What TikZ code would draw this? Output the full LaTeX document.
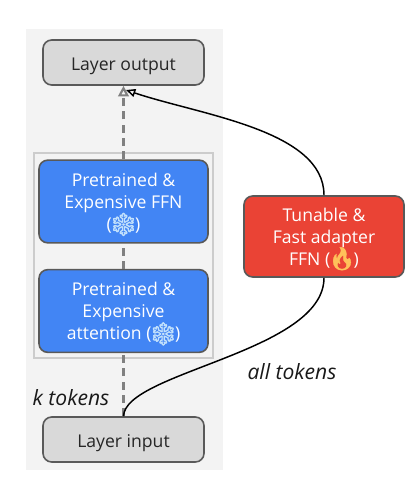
\documentclass[tikz,border=0pt]{standalone}
\usepackage{fontspec}
\setmainfont{Open Sans}
\newfontfamily\emojifont{Noto Emoji}[FakeBold=1.5]
\usetikzlibrary{arrows.meta}
\definecolor{panelgray}{HTML}{F3F3F3}
\definecolor{framegray}{HTML}{CCCCCC}
\definecolor{boxgray}{HTML}{D9D9D9}
\definecolor{edgegray}{HTML}{595959}
\definecolor{blockblue}{HTML}{4285F4}
\definecolor{blockred}{HTML}{EA4335}
\definecolor{iceblue}{HTML}{C4E2FC}
\definecolor{fireorange}{HTML}{FFC15A}
\newcommand{\frozen}{\kern-2pt\smash{\raisebox{-1.5pt}{\fontsize{17}{17}\emojifont\textcolor{iceblue}{❄}}}\kern-2pt}
\newcommand{\burning}{\kern-2pt\smash{\raisebox{-1pt}{\fontsize{17}{17}\emojifont\textcolor{fireorange}{🔥}}}\kern-2pt}
\tikzset{
  block/.style={draw=edgegray,line width=1.2pt,rounded corners=6.5pt,align=center,
    font=\fontsize{13.2}{16.5}\selectfont,inner sep=0pt,text depth=0pt},
  layerbox/.style={block,fill=boxgray,text=black!85,minimum width=120.75pt,minimum height=33.75pt,text height=12.5pt},
  frozenbox/.style={block,fill=blockblue,text=white,minimum width=126.75pt,minimum height=62pt},
  adapterbox/.style={block,fill=blockred,text=white,minimum width=120pt,minimum height=60.75pt},
  skip/.style={draw=gray,line width=1.6pt,dash pattern=on 6pt off 4pt},
  route/.style={draw=black,line width=1.1pt},
  tokens/.style={font=\fontsize{15.8}{18}\selectfont\itshape,text=black!90}
}
\begin{document}
\begin{tikzpicture}[x=0.75pt,y=-0.75pt]
\useasboundingbox (0,0) rectangle (419,485);

% Fond
\fill[panelgray] (26,29) rectangle (223,470);
\draw[framegray,line width=1pt] (34,153) rectangle (213,358);

% Blocs
\node[layerbox] (output) at (123.5,62.5) {Layer output};
\node[frozenbox] (ffn) at (123.5,201.5) {Pretrained \&\\Expensive FFN\\(\frozen)};
\node[frozenbox] (attention) at (123.5,311) {Pretrained \&\\Expensive\\attention (\frozen)};
\node[layerbox] (input) at (123.5,439.5) {Layer input};
\node[adapterbox] (adapter) at (324,236.5) {Tunable \&\\Fast adapter\\FFN (\burning)};

% Liens
\draw[skip] (input) -- (attention);
\draw[skip] (attention) -- (ffn);
\draw[skip,-{Triangle[open,length=8pt,width=8pt]}] (ffn) -- (output);

% Adaptateur
\coordinate (tip) at (126,90);
\draw[route] (input.north) .. controls (125,372) and (324,352) .. (adapter.south);
\draw[route,-{Triangle[open,length=7pt,width=6pt]}] (adapter.north) .. controls (324,130) and (200,115) .. (tip);

% Textes
\node[tokens] (k) at (71,398) {k tokens};
\node[tokens] (all) at (292,372) {all tokens};

\end{tikzpicture}
\end{document}
